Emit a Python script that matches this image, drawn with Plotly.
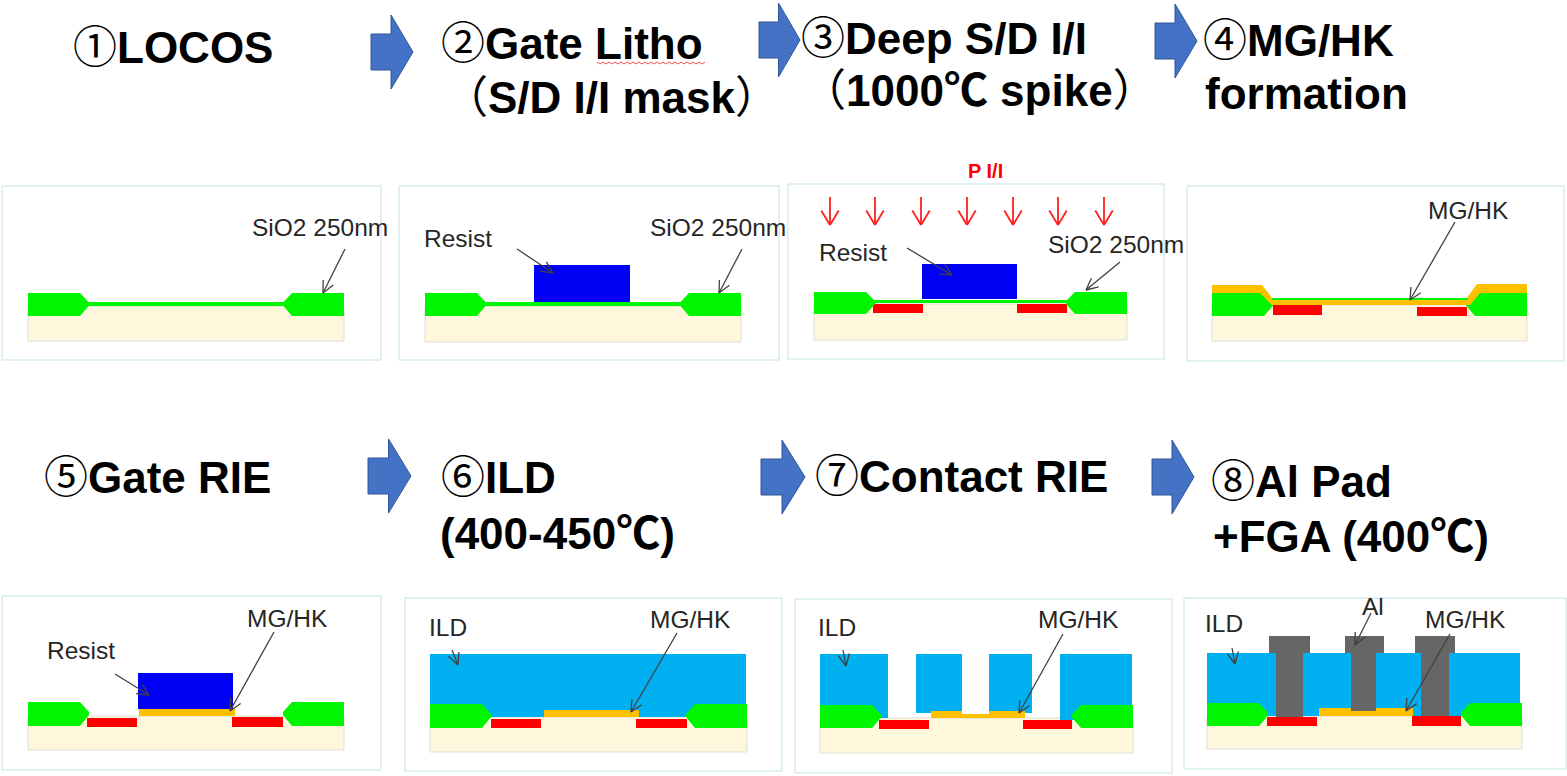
import math
import plotly.graph_objects as go

# Cross-section layers, one entry per panel (1 to 8), in picture units
substrate_left = [28, 425, 814, 1212, 28, 430, 820, 1207]
substrate_right = [344, 741, 1127, 1527, 344, 747, 1133, 1522]
substrate_top = [306, 306, 304, 305, 716, 717, 718, 716]
substrate_bottom = [341, 342, 340, 341, 750, 752, 753, 749]
pad_top = [293, 293, 292, 293, 702, 704, 705, 703]
pad_bottom = [316, 316, 314, 316, 726, 728, 728, 726]

frames = [(2, 381, 186, 360), (399, 779, 186, 360), (788, 1164, 184, 359), (1187, 1564, 186, 361),
          (2, 381, 596, 770), (405, 782, 598, 771), (795, 1172, 599, 773), (1184, 1566, 598, 769)]
ild_boxes = [(430, 746, 654, 717), (820, 888, 654, 718), (916, 962, 654, 713), (989, 1032, 654, 713),
             (1060, 1132, 654, 720), (1207, 1520, 653, 716)]
red_boxes = [(873, 923, 304, 313), (1017, 1067, 304, 313), (1273, 1322, 305, 315), (1417, 1467, 307, 316),
             (87, 137, 718, 727), (232, 283, 717, 727), (491, 541, 719, 728), (636, 687, 719, 728),
             (879, 929, 720, 729), (1023, 1072, 720, 729), (1267, 1317, 717, 726), (1412, 1461, 716, 726)]
oxide_boxes = [(89, 285, 302, 306), (486, 682, 302, 306), (873, 1067, 300, 303), (1272, 1468, 298, 300)]
resist_boxes = [(534, 630, 265, 302), (922, 1017, 264, 299), (138, 233, 673, 709)]
gold_boxes = [(139, 235, 709, 716), (544, 639, 710, 717), (1319, 1413, 708, 716)]
al_boxes = [(1269, 1310, 636, 653), (1276, 1303, 653, 717), (1345, 1384, 636, 653), (1351, 1376, 653, 711),
            (1415, 1455, 636, 653), (1421, 1449, 653, 716)]
gold_film_x = [1212, 1262, 1273, 1466, 1477, 1527, 1527, 1480, 1470, 1272, 1260, 1212]
gold_film_y = [285, 285, 299, 299, 284, 284, 293, 293, 305, 305, 293, 293]
gold_notch_x = [931, 962, 962, 989, 989, 1025, 1025, 931]
gold_notch_y = [711, 711, 714, 714, 711, 711, 718, 718]

# Callout arrows and implant arrows (start x, start y, end x, end y)
callouts = [(345, 249, 323, 293), (517, 249, 553, 273), (742, 249, 719, 293), (907, 248, 952, 275),
            (1120, 262, 1086, 290), (1455, 222, 1410, 300), (115, 674, 149, 695), (274, 632, 230, 711),
            (452, 650, 458, 665), (677, 633, 631, 712), (843, 650, 846, 666), (1063, 634, 1019, 713),
            (1232, 648, 1235, 664), (1371, 613, 1355, 645), (1450, 634, 1406, 711)]
implant_x = [830, 875, 921, 967, 1013, 1058, 1104]
implant_top = 197
implant_bottom = 225

# Blue process arrows
step_left = [371, 759, 1155, 368, 761, 1152]
step_right = [413, 800, 1197, 411, 805, 1194]
step_mid = [52, 40, 41, 476, 477, 477]

# Text
title_text = ["①<b>LOCOS</b>", "②<b>Gate Litho</b>", "（<b>S/D I/I mask</b>）", "③<b>Deep S/D I/I</b>",
              "（<b>1000℃ spike</b>）", "④<b>MG/HK</b>", "<b>formation</b>", "⑤<b>Gate RIE</b>",
              "⑥<b>ILD</b>", "<b>(400-450℃)</b>", "⑦<b>Contact RIE</b>", "⑧<b>Al Pad</b>",
              "<b>+FGA (400℃)</b>"]
title_x = [71, 439, 442, 799, 800, 1201, 1203, 42, 439, 438, 813, 1209, 1211]
title_y = [47, 43, 97, 38, 90, 40, 93, 477, 477, 533, 476, 481, 536]
label_text = ["SiO2 250nm", "Resist", "SiO2 250nm", "Resist", "SiO2 250nm", "MG/HK", "Resist", "MG/HK",
              "ILD", "MG/HK", "ILD", "MG/HK", "ILD", "Al", "MG/HK"]
label_x = [250, 422, 648, 817, 1046, 1426, 45, 245, 427, 648, 816, 1036, 1203, 1360, 1423]
label_y = [227, 238, 227, 252, 244, 210, 650, 618, 627, 619, 627, 619, 623, 606, 619]

SUBSTRATE = "#FFF7DC"
GREEN = "#00F500"
RESIST = "#0000F5"
ILD = "#00B0F0"
GOLD = "#FFC000"
RED = "#FF0000"
AL = "#666666"
FRAME = "#D6ECEF"
ARROW = "#4472C4"

fig = go.Figure()


def add_poly(xs, ys, color, outline=None, width=0):
    fig.add_trace(go.Scatter(x=xs + xs[:1], y=ys + ys[:1], mode="lines", fill="toself", fillcolor=color,
                             line=dict(color=outline or color, width=width), hoverinfo="skip", showlegend=False))


def add_box(box, color):
    x0, x1, y0, y1 = box
    add_poly([x0, x1, x1, x0], [y0, y0, y1, y1], color)


def add_pointer(x0, y0, x1, y1, color, width, head=13, spread=0.45):
    # open arrow head, two short strokes back from the tip
    angle = math.atan2(y0 - y1, x0 - x1)
    xs = [x0, x1, None]
    ys = [y0, y1, None]
    for turn in (-spread, spread):
        xs += [x1, x1 + head * math.cos(angle + turn), None]
        ys += [y1, y1 + head * math.sin(angle + turn), None]
    fig.add_trace(go.Scatter(x=xs, y=ys, mode="lines", line=dict(color=color, width=width),
                             hoverinfo="skip", showlegend=False))


for box in frames:
    x0, x1, y0, y1 = box
    fig.add_trace(go.Scatter(x=[x0, x1, x1, x0, x0], y=[y0, y0, y1, y1, y0], mode="lines",
                             line=dict(color=FRAME, width=1.5), hoverinfo="skip", showlegend=False))

for i in range(8):
    add_poly([substrate_left[i], substrate_right[i], substrate_right[i], substrate_left[i]],
             [substrate_top[i], substrate_top[i], substrate_bottom[i], substrate_bottom[i]],
             SUBSTRATE, outline="#DDDDD5", width=1)

for box in ild_boxes:
    add_box(box, ILD)
for box in red_boxes:
    add_box(box, RED)

# LOCOS pads on both ends of each panel
for i in range(8):
    left, right = substrate_left[i], substrate_right[i]
    top, bottom = pad_top[i], pad_bottom[i]
    mid = (top + bottom) / 2
    add_poly([left, left + 52, left + 61, left + 61, left + 52, left],
             [top, top, mid - 2, mid + 1, bottom, bottom], GREEN)
    add_poly([right, right - 52, right - 61, right - 61, right - 52, right],
             [top, top, mid - 2, mid + 1, bottom, bottom], GREEN)

add_poly(gold_film_x, gold_film_y, GOLD)
add_poly(gold_notch_x, gold_notch_y, GOLD)
for box in gold_boxes:
    add_box(box, GOLD)
for box in oxide_boxes:
    add_box(box, GREEN)
for box in resist_boxes:
    add_box(box, RESIST)
for box in al_boxes:
    add_box(box, AL)

for x0, y0, x1, y1 in callouts:
    add_pointer(x0, y0, x1, y1, "#404040", 1.3)
for x in implant_x:
    add_pointer(x, implant_top, x, implant_bottom, "#FF2020", 1.8, head=17, spread=0.54)

# Blue step arrows between the process steps
for left, right, mid in zip(step_left, step_right, step_mid):
    neck = (left + right) / 2 - 1
    add_poly([left, neck, neck, right, neck, neck, left],
             [mid - 18, mid - 18, mid - 37, mid, mid + 37, mid + 18, mid + 18],
             ARROW, outline="#2F5597", width=1)

# red spell-check squiggle under Litho
squiggle_x = list(range(597, 706, 3))
squiggle_y = [62 + (n % 2) * 2 for n in range(len(squiggle_x))]
fig.add_trace(go.Scatter(x=squiggle_x, y=squiggle_y, mode="lines", line=dict(color="#F05050", width=1),
                         hoverinfo="skip", showlegend=False))

for text, x, y in zip(title_text, title_x, title_y):
    fig.add_annotation(x=x, y=y, text=text, showarrow=False, xanchor="left", yanchor="middle",
                       font=dict(family="Liberation Sans, Noto Sans CJK JP", size=44, color="#000000"))
for text, x, y in zip(label_text, label_x, label_y):
    fig.add_annotation(x=x, y=y, text=text, showarrow=False, xanchor="left", yanchor="middle",
                       font=dict(family="Liberation Sans", size=24.5, color="#262626"))
fig.add_annotation(x=985, y=171, text="<b>P I/I</b>", showarrow=False,
                   font=dict(family="Liberation Sans", size=20, color="#FF0000"))

fig.update_layout(
    width=1567, height=776,
    margin=dict(l=0, r=0, t=0, b=0),
    plot_bgcolor="white", paper_bgcolor="white",
    xaxis=dict(range=[0, 1567], visible=False, fixedrange=True),
    yaxis=dict(range=[776, 0], visible=False, fixedrange=True),
    showlegend=False,
)
fig.write_html("out.html", config={"displayModeBar": False}, post_script="document.body.style.margin='0';")
